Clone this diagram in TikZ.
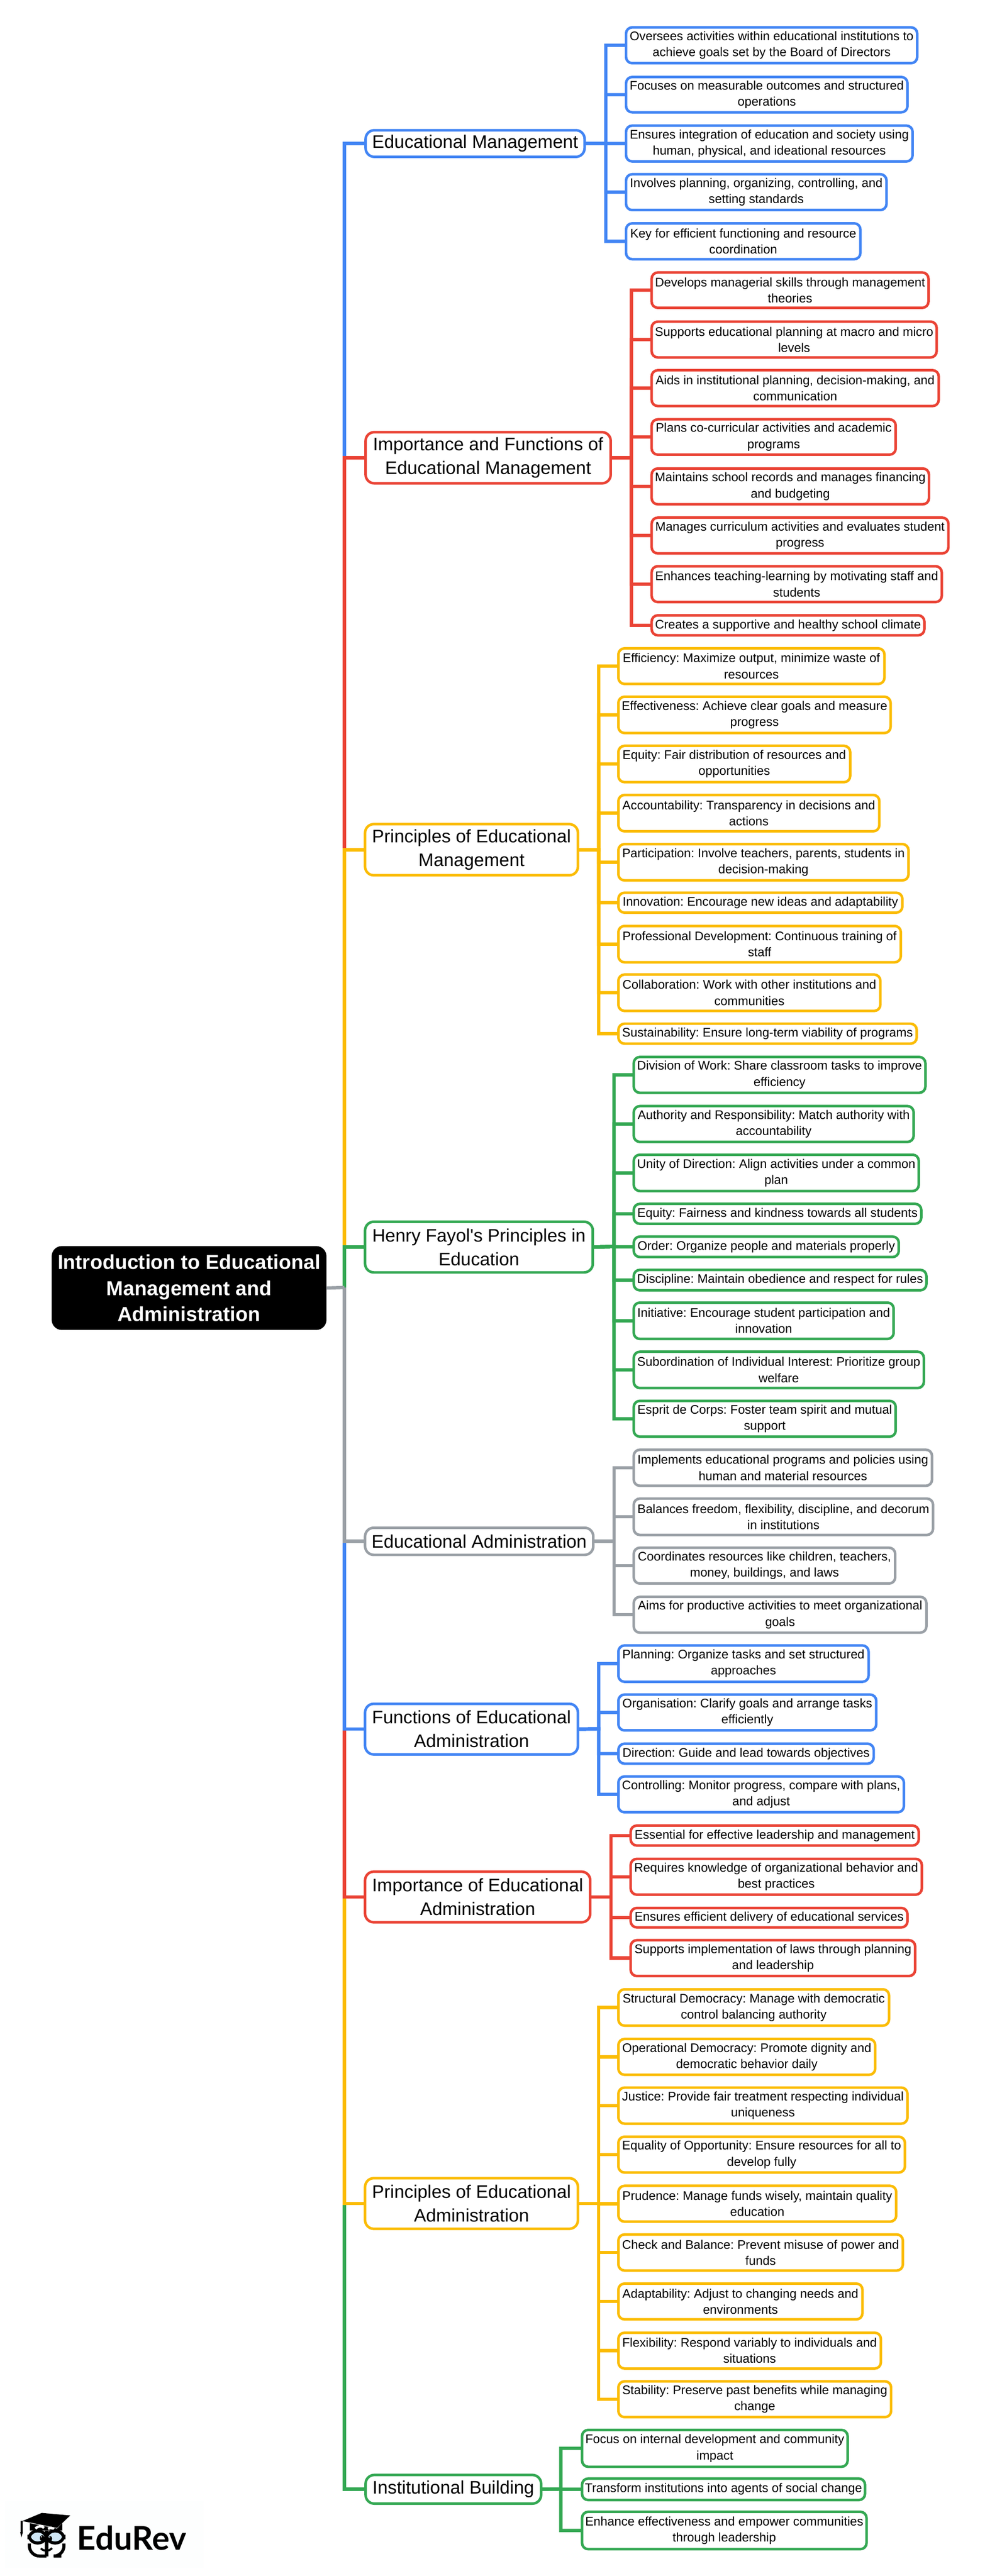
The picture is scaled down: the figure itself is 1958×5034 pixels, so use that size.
\documentclass[tikz,border=0pt]{standalone}
\usepackage{fontspec}
\setmainfont{Liberation Sans}
\newfontfamily\brandfont{Lato}
\frenchspacing
\usetikzlibrary{positioning, calc}
\definecolor{mapblue}{HTML}{4285F4}
\definecolor{mapred}{HTML}{EA4335}
\definecolor{mapyellow}{HTML}{FBBC04}
\definecolor{mapgreen}{HTML}{34A853}
\definecolor{mapgray}{HTML}{9AA0A6}
\definecolor{lensblue}{HTML}{CFE6F5}
\definecolor{logopaper}{HTML}{FDFEFE}
\tikzset{
	span/.style n args={4}{minimum width={#2-#1-5}, minimum height={#4-#3-5}, at={({(#1+#2)/2},{(#3+#4)/2})}},
	leaf/.style={shape=rectangle, rounded corners=12pt, line width=5pt, fill=white, text=black, inner sep=0pt, outer sep=0pt, align=center, font=\fontsize{24.4}{31.5}\selectfont},
	branch/.style={leaf, rounded corners=17pt, font=\fontsize{35.5}{46}\selectfont},
	wire/.style={line width=6.5pt, line join=miter}
}
\begin{document}
\begin{tikzpicture}[x=1pt, y=-1pt]
\useasboundingbox (0,0) rectangle (1958,5034);

\node[shape=rectangle, rounded corners=20pt, fill=black, text=white, inner sep=0pt, outer sep=0pt, align=center, font=\fontsize{39.5}{50.5}\selectfont\bfseries, span={101}{638}{2435}{2599}, minimum width=537, minimum height=164] (root){Introduction to Educational\\Management and\\Administration};
\coordinate (trunk) at (673, 2516);

% Educational Management
\node[branch, draw=mapblue, span={712}{1145}{252}{309}] (b1){Educational Management};
\coordinate (s1) at (1184, 280.6);
\node[leaf, draw=mapblue, span={1221}{1795}{51}{126}] (b1l1){Oversees activities within educational institutions to\\achieve goals set by the Board of Directors};
\node[leaf, draw=mapblue, span={1221}{1776}{148}{222}] (b1l2){Focuses on measurable outcomes and structured\\operations};
\node[leaf, draw=mapblue, span={1221}{1786}{243}{318}] (b1l3){Ensures integration of education and society using\\human, physical, and ideational resources};
\node[leaf, draw=mapblue, span={1221}{1735}{338}{413}] (b1l4){Involves planning, organizing, controlling, and\\setting standards};
\node[leaf, draw=mapblue, span={1221}{1684}{434}{509}] (b1l5){Key for efficient functioning and resource\\coordination};
\foreach \i in {1,...,5}
	\draw[wire, mapblue] (b1.east) -- (s1) |- (b1l\i.west);

% Importance and Functions
\node[branch, draw=mapred, span={712}{1196}{842}{947}] (b2){Importance and Functions of\\Educational Management};
\coordinate (s2) at (1234, 894.7);
\node[leaf, draw=mapred, span={1271}{1817}{530}{604}] (b2l1){Develops managerial skills through management\\theories};
\node[leaf, draw=mapred, span={1271}{1833}{626}{701}] (b2l2){Supports educational planning at macro and micro\\levels};
\node[leaf, draw=mapred, span={1271}{1837}{721}{796}] (b2l3){Aids in institutional planning, decision-making, and\\communication};
\node[leaf, draw=mapred, span={1271}{1753}{817}{891}] (b2l4){Plans co-curricular activities and academic\\programs};
\node[leaf, draw=mapred, span={1271}{1818}{913}{988}] (b2l5){Maintains school records and manages financing\\and budgeting};
\node[leaf, draw=mapred, span={1271}{1856}{1009}{1084}] (b2l6){Manages curriculum activities and evaluates student\\progress};
\node[leaf, draw=mapred, span={1271}{1843}{1104}{1179}] (b2l7){Enhances teaching-learning by motivating staff and\\students};
\node[leaf, draw=mapred, span={1271}{1809}{1200}{1244}] (b2l8){Creates a supportive and healthy school climate};
\foreach \i in {1,...,8}
	\draw[wire, mapred] (b2.east) -- (s2) |- (b2l\i.west);

% Principles of Educational Management
\node[branch, draw=mapyellow, span={711}{1132}{1608}{1713}] (b3){Principles of Educational\\Management};
\coordinate (s3) at (1170, 1660.6);
\node[leaf, draw=mapyellow, span={1206}{1731}{1264.5}{1339}] (b3l1){Efficiency: Maximize output, minimize waste of\\resources};
\node[leaf, draw=mapyellow, span={1206}{1743}{1359}{1435}] (b3l2){Effectiveness: Achieve clear goals and measure\\progress};
\node[leaf, draw=mapyellow, span={1206}{1664}{1455}{1531}] (b3l3){Equity: Fair distribution of resources and\\opportunities};
\node[leaf, draw=mapyellow, span={1206}{1721}{1551}{1627}] (b3l4){Accountability: Transparency in decisions and\\actions};
\node[leaf, draw=mapyellow, span={1206}{1778}{1647}{1723}] (b3l5){Participation: Involve teachers, parents, students in\\decision-making};
\node[leaf, draw=mapyellow, span={1206}{1766}{1742}{1786}] (b3l6){Innovation: Encourage new ideas and adaptability};
\node[leaf, draw=mapyellow, span={1206}{1763}{1807}{1883}] (b3l7){Professional Development: Continuous training of\\staff};
\node[leaf, draw=mapyellow, span={1206}{1723}{1902}{1978}] (b3l8){Collaboration: Work with other institutions and\\communities};
\node[leaf, draw=mapyellow, span={1206}{1794}{1998}{2042}] (b3l9){Sustainability: Ensure long-term viability of programs};
\foreach \i in {1,...,9}
	\draw[wire, mapyellow] (b3.east) -- (s3) |- (b3l\i.west);

% Henry Fayol
\node[branch, draw=mapgreen, span={711}{1161}{2385}{2489}] (b4){Henry Fayol\textquotesingle s Principles in\\Education};
\coordinate (s4) at (1200, 2436);
\node[leaf, draw=mapgreen, span={1236}{1811}{2063}{2138}] (b4l1){Division of Work: Share classroom tasks to improve\\efficiency};
\node[leaf, draw=mapgreen, span={1236}{1788}{2159}{2234}] (b4l2){Authority and Responsibility: Match authority with\\accountability};
\node[leaf, draw=mapgreen, span={1236}{1798}{2254}{2330}] (b4l3){Unity of Direction: Align activities under a common\\plan};
\node[leaf, draw=mapgreen, span={1236}{1803}{2350}{2394}] (b4l4){Equity: Fairness and kindness towards all students};
\node[leaf, draw=mapgreen, span={1236}{1759}{2414}{2459}] (b4l5){Order: Organize people and materials properly};
\node[leaf, draw=mapgreen, span={1236}{1813}{2479}{2524}] (b4l6){Discipline: Maintain obedience and respect for rules};
\node[leaf, draw=mapgreen, span={1236}{1749}{2543}{2619}] (b4l7){Initiative: Encourage student participation and\\innovation};
\node[leaf, draw=mapgreen, span={1236}{1808}{2639}{2715}] (b4l8){Subordination of Individual Interest: Prioritize group\\welfare};
\node[leaf, draw=mapgreen, span={1236}{1753}{2735}{2810}] (b4l9){Esprit de Corps: Foster team spirit and mutual\\support};
\foreach \i in {1,...,9}
	\draw[wire, mapgreen] (b4.east) -- (s4) |- (b4l\i.west);

% Educational Administration
\node[branch, draw=mapgray, span={711}{1162}{2983}{3041}] (b5){Educational Administration};
\coordinate (s5) at (1200, 3012);
\node[leaf, draw=mapgray, span={1236}{1824}{2830.5}{2906}] (b5l1){Implements educational programs and policies using\\human and material resources};
\node[leaf, draw=mapgray, span={1236}{1826}{2926}{3002}] (b5l2){Balances freedom, flexibility, discipline, and decorum\\in institutions};
\node[leaf, draw=mapgray, span={1236}{1752}{3022}{3097}] (b5l3){Coordinates resources like children, teachers,\\money, buildings, and laws};
\node[leaf, draw=mapgray, span={1236}{1813}{3118}{3193}] (b5l4){Aims for productive activities to meet organizational\\goals};
\foreach \i in {1,...,4}
	\draw[wire, mapgray] (b5.east) -- (s5) |- (b5l\i.west);

% Functions of Educational Administration
\node[branch, draw=mapblue, span={711}{1132}{3327}{3431}] (b6){Functions of Educational\\Administration};
\coordinate (s6) at (1170, 3378.5);
\node[leaf, draw=mapblue, span={1206}{1700}{3213}{3289}] (b6l1){Planning: Organize tasks and set structured\\approaches};
\node[leaf, draw=mapblue, span={1206}{1715}{3309}{3384}] (b6l2){Organisation: Clarify goals and arrange tasks\\efficiently};
\node[leaf, draw=mapblue, span={1206}{1710}{3405}{3449}] (b6l3){Direction: Guide and lead towards objectives};
\node[leaf, draw=mapblue, span={1206}{1769}{3469}{3544}] (b6l4){Controlling: Monitor progress, compare with plans,\\and adjust};
\foreach \i in {1,...,4}
	\draw[wire, mapblue] (b6.east) -- (s6) |- (b6l\i.west);

% Importance of Educational Administration
\node[branch, draw=mapred, span={711}{1156}{3655}{3759}] (b7){Importance of Educational\\Administration};
\coordinate (s7) at (1194, 3707);
\node[leaf, draw=mapred, span={1230}{1798}{3565}{3609}] (b7l1){Essential for effective leadership and management};
\node[leaf, draw=mapred, span={1230}{1804}{3630}{3705}] (b7l2){Requires knowledge of organizational behavior and\\best practices};
\node[leaf, draw=mapred, span={1230}{1776}{3726}{3769}] (b7l3){Ensures efficient delivery of educational services};
\node[leaf, draw=mapred, span={1230}{1791}{3789}{3864}] (b7l4){Supports implementation of laws through planning\\and leadership};
\foreach \i in {1,...,4}
	\draw[wire, mapred] (b7.east) -- (s7) |- (b7l\i.west);

% Principles of Educational Administration
\node[branch, draw=mapyellow, span={711}{1132}{4254}{4358}] (b8){Principles of Educational\\Administration};
\coordinate (s8) at (1170, 4306);
\node[leaf, draw=mapyellow, span={1206}{1740}{3885}{3961}] (b8l1){Structural Democracy: Manage with democratic\\control balancing authority};
\node[leaf, draw=mapyellow, span={1206}{1713}{3982}{4057}] (b8l2){Operational Democracy: Promote dignity and\\democratic behavior daily};
\node[leaf, draw=mapyellow, span={1206}{1776}{4077}{4152.5}] (b8l3){Justice: Provide fair treatment respecting individual\\uniqueness};
\node[leaf, draw=mapyellow, span={1206}{1771}{4173}{4248}] (b8l4){Equality of Opportunity: Ensure resources for all to\\develop fully};
\node[leaf, draw=mapyellow, span={1206}{1754}{4269}{4344}] (b8l5){Prudence: Manage funds wisely, maintain quality\\education};
\node[leaf, draw=mapyellow, span={1206}{1767}{4364}{4439.5}] (b8l6){Check and Balance: Prevent misuse of power and\\funds};
\node[leaf, draw=mapyellow, span={1206}{1688}{4460}{4535}] (b8l7){Adaptability: Adjust to changing needs and\\environments};
\node[leaf, draw=mapyellow, span={1206}{1724}{4556}{4631}] (b8l8){Flexibility: Respond variably to individuals and\\situations};
\node[leaf, draw=mapyellow, span={1206}{1744}{4651}{4726}] (b8l9){Stability: Preserve past benefits while managing\\change};
\foreach \i in {1,...,9}
	\draw[wire, mapyellow] (b8.east) -- (s8) |- (b8l\i.west);

% Institutional Building
\node[branch, draw=mapgreen, span={712}{1060}{4834}{4895}] (b9){Institutional Building};
\coordinate (s9) at (1096, 4864);
\node[leaf, draw=mapgreen, span={1135}{1659}{4746}{4823}] (b9l1){Focus on internal development and community\\impact};
\node[leaf, draw=mapgreen, span={1135}{1693}{4841}{4888}] (b9l2){Transform institutions into agents of social change};
\node[leaf, draw=mapgreen, span={1135}{1696}{4906}{4984}] (b9l3){Enhance effectiveness and empower communities\\through leadership};
\foreach \i in {1,...,3}
	\draw[wire, mapgreen] (b9.east) -- (s9) |- (b9l\i.west);

% trunk, the ones next to the root go on top
\draw[wire, mapblue] (trunk) |- (b1.west);
\draw[wire, mapred] (trunk) |- (b2.west);
\draw[wire, mapyellow] (trunk) |- (b3.west);
\draw[wire, mapgreen] (trunk) |- (b4.west);
\draw[wire, mapgreen] (trunk) |- (b9.west);
\draw[wire, mapyellow] (trunk) |- (b8.west);
\draw[wire, mapred] (trunk) |- (b7.west);
\draw[wire, mapblue] (trunk) |- (b6.west);
\draw[wire, mapgray] (trunk) |- (b5.west);
\draw[wire, mapgray] (root.east) -- (trunk);

% logo
\fill[logopaper] (10,4887) rectangle (398,5018);
\begin{scope}[shift={(0,4880)}, x=0.3333pt, y=-0.3333pt]
\fill[black] (130,140) -- (245,92) -- (412,107) -- (335,180) -- (175,148) -- cycle;
\fill[black] (175,152) -- (335,184) -- (365,152) -- (365,195) -- (175,195) -- cycle;
\draw[white, line width=5pt] (208,184) .. controls (225,166) and (245,166) .. (258,180);
\draw[white, line width=5pt] (282,186) .. controls (292,178) and (305,178) .. (316,188);
\draw[black, line width=4pt] (126,140) -- (126,205);
\fill[black] (118,205) -- (134,205) -- (126,235) -- cycle;
\draw[black, line width=6pt, fill=lensblue, rounded corners=16pt] (170,198) rectangle (272,268);
\draw[black, line width=6pt, fill=lensblue, rounded corners=16pt] (272,198) rectangle (375,268);
\draw[black, line width=6pt, rounded corners=20pt] (272,345) -- (172,345) -- (172,272);
\draw[black, line width=6pt, rounded corners=20pt] (375,272) -- (375,345) -- (360,345);
\draw[black, line width=7pt] (272,195) -- (272,348);
\fill[black] (247,240) ellipse [x radius=13, y radius=18];
\fill[black] (295,243) ellipse [x radius=11, y radius=15];
\fill[white] (243,232) circle (4);
\fill[white] (291,236) circle (3);
\draw[black, line width=4pt] (240,300) .. controls (255,318) and (290,318) .. (305,298);
\end{scope}
\node[inner sep=0pt, outer sep=0pt, anchor=base west, font=\fontsize{64}{64}\selectfont\brandfont\bfseries] at (151,4983) (brand){EduRev};
\end{tikzpicture}
\end{document}
